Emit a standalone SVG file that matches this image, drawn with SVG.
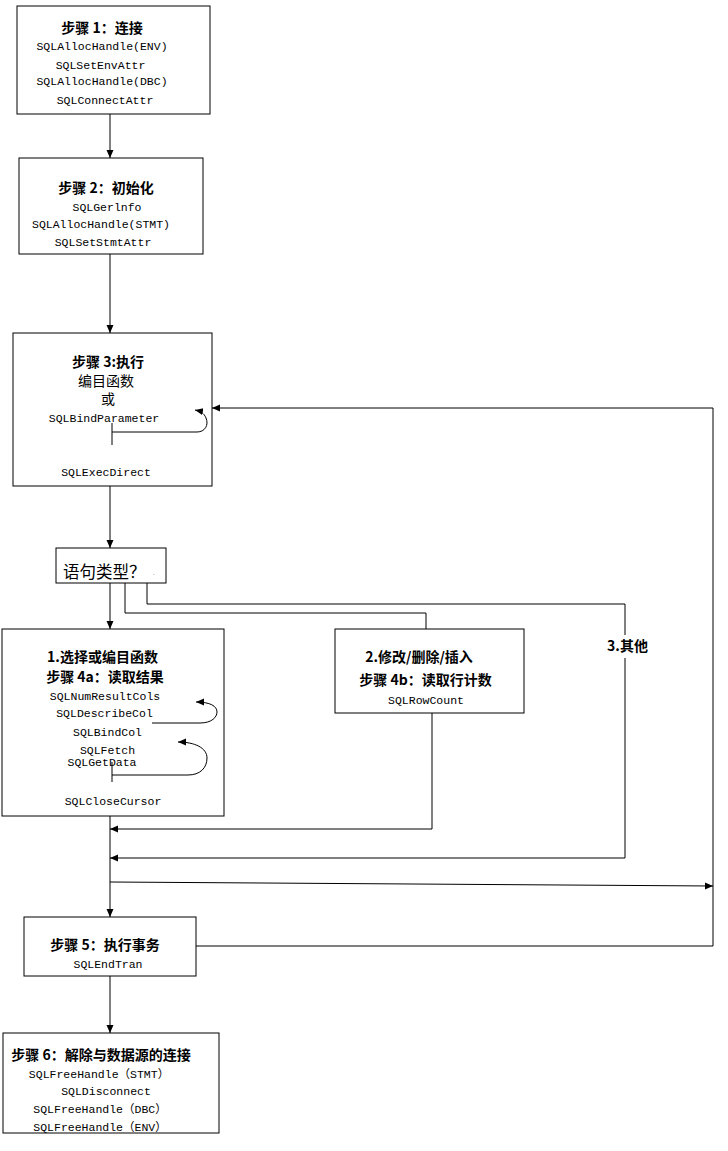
<svg xmlns="http://www.w3.org/2000/svg" width="728" height="1151" viewBox="0 0 728 1151">
<style>
.box{fill:#fff;stroke:#000;stroke-width:1}
.ln{fill:none;stroke:#000;stroke-width:1}
.t{font-family:"Noto Sans CJK SC","Noto Sans",sans-serif;font-weight:bold;font-size:14px;text-anchor:middle;fill:#000}
.r{font-family:"Noto Sans CJK SC","Noto Sans",sans-serif;font-size:14px;text-anchor:middle;fill:#000}
.c{font-family:"Liberation Mono","Noto Sans CJK SC",monospace;font-size:11.5px;text-anchor:middle;fill:#000}
</style>
<defs>
<marker id="ah" markerUnits="userSpaceOnUse" markerWidth="9" markerHeight="8" refX="8" refY="3.5" orient="auto">
<path d="M0,0 L8,3.5 L0,7 z" fill="#000"/>
</marker>
</defs>
<rect width="728" height="1151" fill="#fff"/>
<g id="step1">
<rect class="box" x="17" y="6" width="193" height="108"/>
<text class="t" x="102" y="33">步骤 1：连接</text>
<text class="c" x="102" y="50">SQLAllocHandle(ENV)</text>
<text class="c" x="100.5" y="69">SQLSetEnvAttr</text>
<text class="c" x="102" y="85">SQLAllocHandle(DBC)</text>
<text class="c" x="105" y="104">SQLConnectAttr</text>
</g>
<g id="step2">
<rect class="box" x="19" y="158" width="184" height="96"/>
<text class="t" x="106" y="193">步骤 2：初始化</text>
<text class="c" x="107" y="211">SQLGerlnfo</text>
<text class="c" x="101" y="228">SQLAllocHandle(STMT)</text>
<text class="c" x="103" y="246">SQLSetStmtAttr</text>
</g>
<g id="step3">
<rect class="box" x="13" y="333" width="199" height="153"/>
<text class="t" x="108" y="367">步骤 3:执行</text>
<text class="r" x="106" y="386">编目函数</text>
<text class="r" x="108" y="404">或</text>
<text class="c" x="104" y="422">SQLBindParameter</text>
<text class="c" x="106" y="476">SQLExecDirect</text>
</g>
<g id="decision">
<rect class="box" x="56" y="548" width="110" height="35"/>
<text font-family="'Noto Sans CJK SC',sans-serif" font-size="16.5" x="63" y="578">语句类型？</text>
<text font-family="'Liberation Sans',sans-serif" font-size="6" x="153" y="575">.</text>
</g>
<g id="step4a">
<rect class="box" x="2" y="629" width="222" height="187"/>
<text class="t" x="102.5" y="662">1.选择或编目函数</text>
<text class="t" x="105" y="682">步骤 4a：读取结果</text>
<text class="c" x="105" y="700">SQLNumResultCols</text>
<text class="c" x="104.5" y="717">SQLDescribeCol</text>
<text class="c" x="107.5" y="736">SQLBindCol</text>
<text class="c" x="107.5" y="754">SQLFetch</text>
<text class="c" x="102" y="766">SQLGetData</text>
<text class="c" x="113" y="805">SQLCloseCursor</text>
</g>
<g id="step4b">
<rect class="box" x="335" y="629" width="189" height="84"/>
<text class="t" x="419" y="662">2.修改/删除/插入</text>
<text class="t" x="425.5" y="685">步骤 4b：读取行计数</text>
<text class="c" x="426" y="704">SQLRowCount</text>
</g>
<g id="step5">
<rect class="box" x="24" y="917" width="172" height="59"/>
<text class="t" x="105" y="950">步骤 5：执行事务</text>
<text class="c" x="108" y="968">SQLEndTran</text>
</g>
<g id="step6">
<rect class="box" x="3" y="1033" width="216" height="100"/>
<text class="t" x="101" y="1060">步骤 6：解除与数据源的连接</text>
<text class="c" x="99" y="1078">SQLFreeHandle（STMT）</text>
<text class="c" x="106" y="1095">SQLDisconnect</text>
<text class="c" x="100" y="1113">SQLFreeHandle（DBC）</text>
<text class="c" x="100" y="1131">SQLFreeHandle（ENV）</text>
</g>
<g id="connectors">
<path class="ln" d="M110 114 V158" marker-end="url(#ah)"/>
<path class="ln" d="M110 254 V333" marker-end="url(#ah)"/>
<path class="ln" d="M110 486 V548" marker-end="url(#ah)"/>
<path class="ln" d="M110 583 V629" marker-end="url(#ah)"/>
<path class="ln" d="M125 583 V613 H426 V629"/>
<path class="ln" d="M147 583 V604 H625 V635"/>
<path class="ln" d="M625 658 V858 H110" marker-end="url(#ah)"/>
<path class="ln" d="M432 713 V829 H110" marker-end="url(#ah)"/>
<path class="ln" d="M110 816 V917" marker-end="url(#ah)"/>
<path class="ln" d="M110 882 L713 886" marker-end="url(#ah)"/>
<path class="ln" d="M196 946 H713 V408 H212" marker-end="url(#ah)"/>
<path class="ln" d="M110 976 V1033" marker-end="url(#ah)"/>
<path class="ln" d="M112 423 V445"/>
<path class="ln" d="M112 432 H197 C205 432 209 425 206 418 C204 413 200 411 195 410" marker-end="url(#ah)"/>
<path class="ln" d="M152 723 H200 C212 723 217 717 217 712 C217 706 210 702 196 702" marker-end="url(#ah)"/>
<path class="ln" d="M112 762 V782"/>
<path class="ln" d="M112 775 H188 C200 775 207 768 207 758 C207 748 195 742 178 742" marker-end="url(#ah)"/>
<text class="t" x="627.5" y="651">3.其他</text>
</g>
</svg>
